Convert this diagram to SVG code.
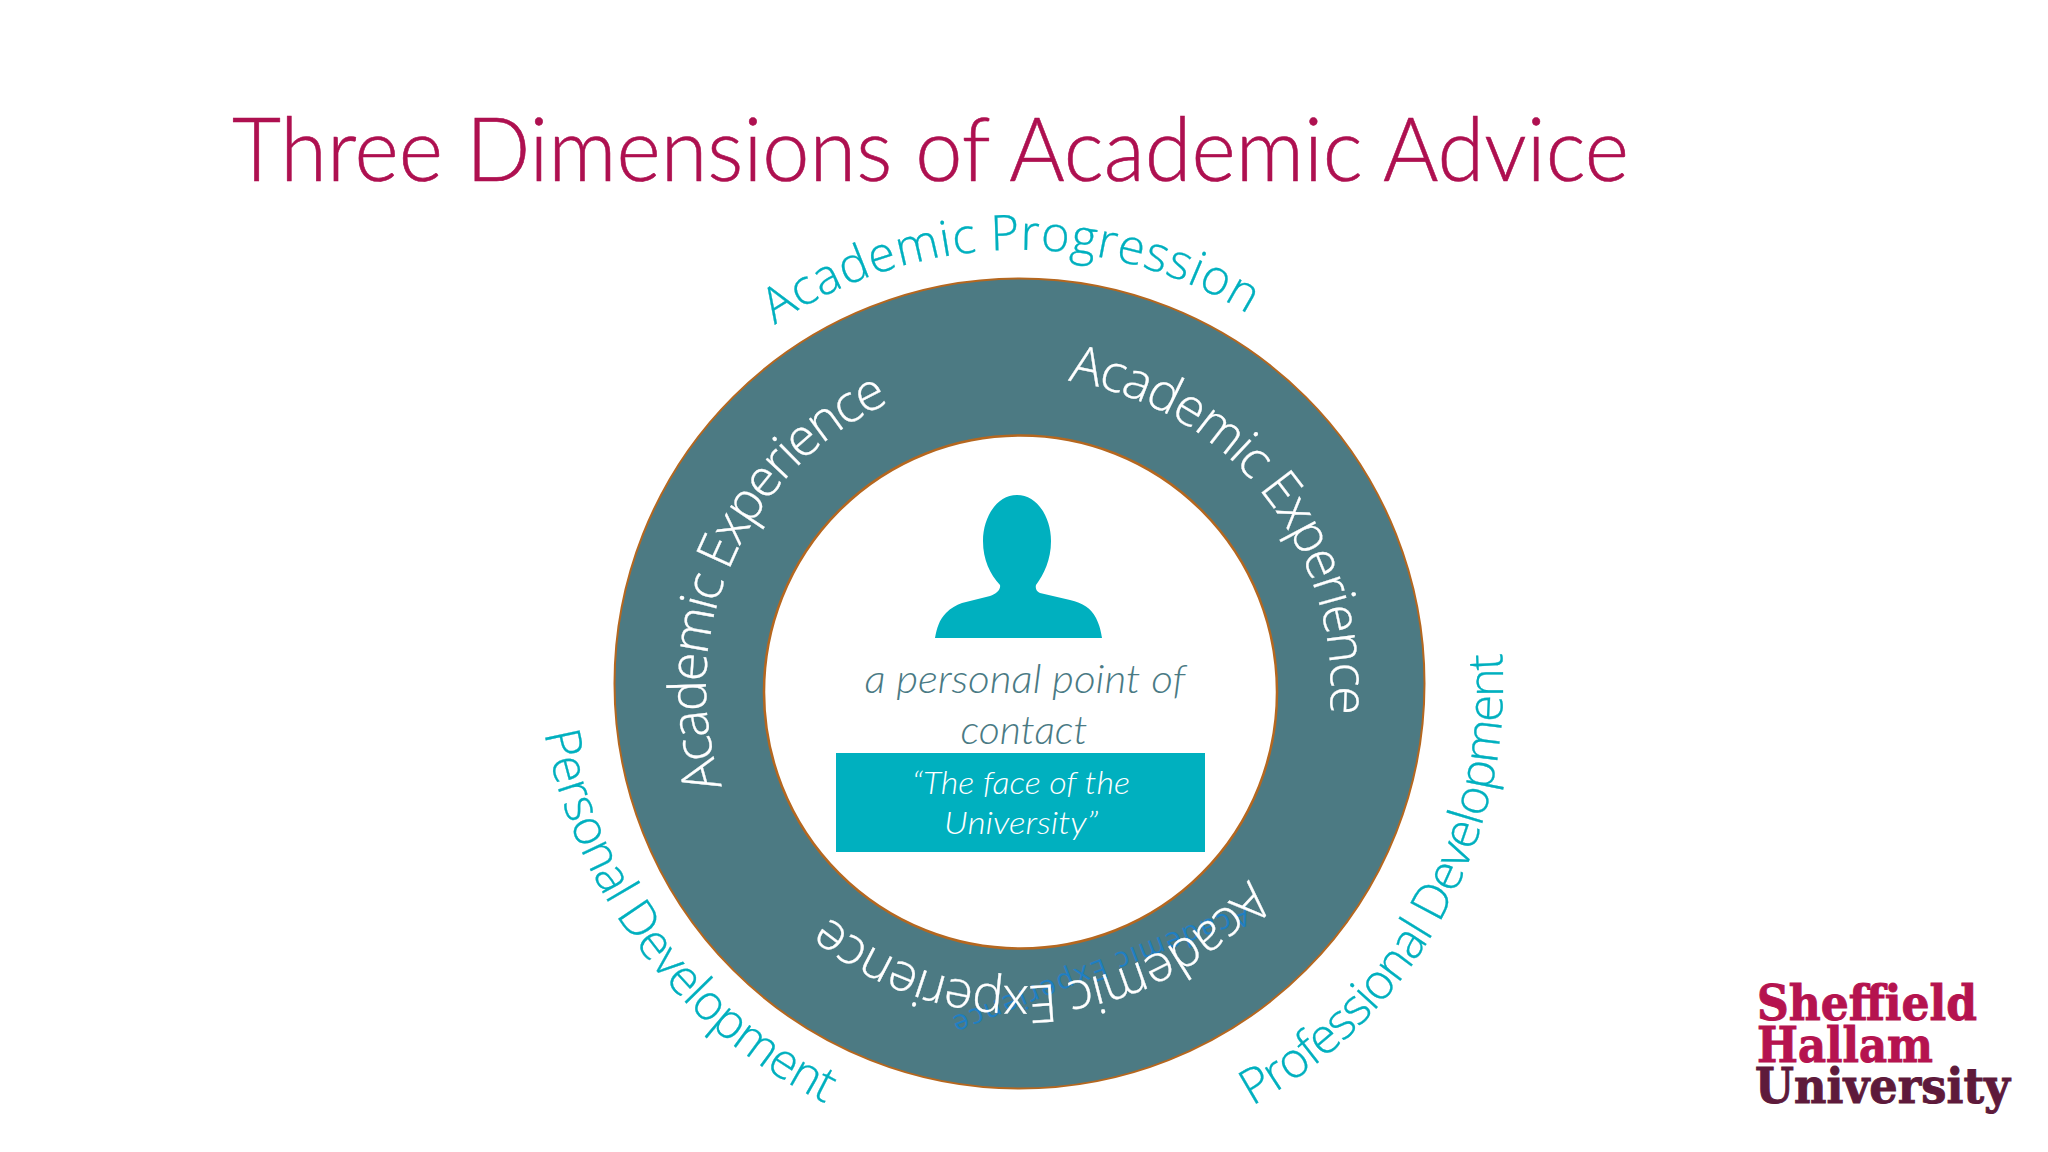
<svg xmlns="http://www.w3.org/2000/svg" width="2048" height="1152" viewBox="0 0 2048 1152">
<style>
.title{font-family:"Lato","Liberation Sans",sans-serif;font-weight:300;font-size:88px;fill:#ae1050;stroke:#ae1050;stroke-width:.6}
.arc{font-family:"Open Sans","Liberation Sans",sans-serif;font-weight:300;font-size:49px;fill:#00b0bf;stroke:#00b0bf;stroke-width:.3}
.ring{font-family:"Open Sans","Liberation Sans",sans-serif;font-weight:300;font-size:52px;fill:#fff;stroke:#fff;stroke-width:.3}
.ghost{font-family:"Open Sans","Liberation Sans",sans-serif;font-weight:400;font-size:28px;fill:#1f7fc4}
.mid{font-family:"Lato","Liberation Sans",sans-serif;font-weight:300;font-style:italic;font-size:40px;fill:#4a7a84;text-anchor:middle}
.box{font-family:"Lato","Liberation Sans",sans-serif;font-weight:300;font-style:italic;font-size:32px;fill:#fff;text-anchor:middle}
.logo{font-family:"DejaVu Serif","Liberation Serif",serif;font-weight:700;font-size:49px;stroke-width:1}
</style>
<defs>
<path id="pTop" d="M775,325 A437,437 0 0 1 1327.6,376.4"/>
<path id="pPers" d="M544.5,733 A520,520 0 0 0 873,1124"/>
<path id="pProf" d="M1252,1106 A481,481 0 0 0 1495.7,600"/>
<path id="pLeft" d="M722,786 A313,313 0 0 1 966.2,379"/>
<path id="pRight" d="M1068.2,381 A311,311 0 0 1 1312,795"/>
<path id="pBot" d="M1248.3,879.6 A298,298 0 0 1 791.7,879.6"/>
<path id="pGhost" d="M1246,905 Q1120,950 950,1018"/>
</defs>
<rect width="2048" height="1152" fill="#fff"/>
<g id="title"><text class="title" x="232" y="181" textLength="1397" lengthAdjust="spacingAndGlyphs">Three Dimensions of Academic Advice</text></g>
<g id="ring">
<circle cx="1019.5" cy="683.5" r="405" fill="#4c7a83" stroke="#b5671f" stroke-width="2"/>
<circle cx="1020.5" cy="692" r="256.5" fill="#fff" stroke="#b5671f" stroke-width="2.5"/>
<text class="ring"><textPath href="#pLeft" textLength="458">Academic Experience</textPath></text>
<text class="ring"><textPath href="#pRight" textLength="466">Academic Experience</textPath></text>
<text class="ghost"><textPath href="#pGhost" textLength="316">Academic Experience</textPath></text>
<text class="ring"><textPath href="#pBot" textLength="468">Academic Experience</textPath></text>
</g>
<g id="dimensions">
<text class="arc"><textPath href="#pTop" textLength="500">Academic Progression</textPath></text>
<text class="arc"><textPath href="#pPers" textLength="482">Personal Development</textPath></text>
<text class="arc"><textPath href="#pProf" textLength="546">Professional Development</textPath></text>
</g>
<g id="person">
<path fill="#00b0bf" d="M1017,495 C1037,495 1051,517 1051,541 C1051,560 1044,574 1036,585 C1035,589 1037,592 1040,593 L1070,600 C1083,603 1091,608 1096,618 C1100,626 1101,632 1102,638 L935,638 C937,628 939,620 946,613 C951,608 956,605 962,603 L990,596 C996,594 1001,590 1000,585 C990,574 983,560 983,541 C983,517 997,495 1017,495 Z"/>
<text class="mid" x="1025" y="693" textLength="321" lengthAdjust="spacingAndGlyphs">a personal point of</text>
<text class="mid" x="1024" y="744" textLength="127" lengthAdjust="spacingAndGlyphs">contact</text>
</g>
<g id="face">
<rect x="836" y="753" width="369" height="99" fill="#00b0bf"/>
<text class="box" x="1021" y="794" textLength="218" lengthAdjust="spacingAndGlyphs">“The face of the</text>
<text class="box" x="1021" y="834" textLength="154" lengthAdjust="spacingAndGlyphs">University”</text>
</g>
<g id="logo">
<text class="logo" x="1757" y="1020" fill="#b5134f" stroke="#b5134f" textLength="220" lengthAdjust="spacingAndGlyphs">Sheffield</text>
<text class="logo" x="1757" y="1062" fill="#b5134f" stroke="#b5134f" textLength="176" lengthAdjust="spacingAndGlyphs">Hallam</text>
<text class="logo" x="1755" y="1103" fill="#5e1a3b" stroke="#5e1a3b" textLength="255" lengthAdjust="spacingAndGlyphs">University</text>
</g>
</svg>
